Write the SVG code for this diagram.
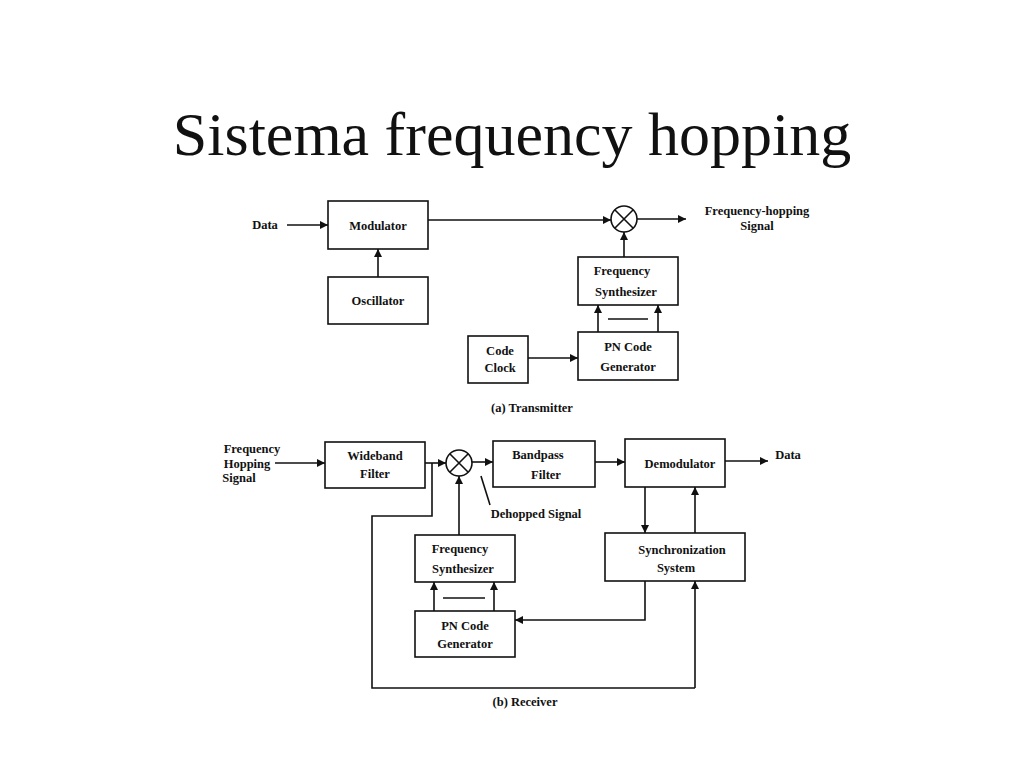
<svg xmlns="http://www.w3.org/2000/svg" width="1024" height="768" viewBox="0 0 1024 768">
<defs>
<marker id="ah" viewBox="0 0 10 10" refX="10" refY="5" markerWidth="8" markerHeight="8" markerUnits="userSpaceOnUse" orient="auto"><path d="M0,0 L10,5 L0,10 z" fill="#111"/></marker>
</defs>
<style>
.b{fill:none;stroke:#111;stroke-width:1.6}
.c{fill:none;stroke:#111;stroke-width:1.6}
.a{marker-end:url(#ah)}
text{font-family:"Liberation Serif",serif;fill:#111;font-size:12.5px;font-weight:bold;text-anchor:middle}
.t{font-size:62px;font-weight:normal}
</style>
<rect width="1024" height="768" fill="#fff"/>
<text class="t" x="512" y="155">Sistema frequency hopping</text>
<g id="tx">
<g id="modulator"><rect class="b" x="328" y="201" width="100" height="48"/><text x="378" y="230">Modulator</text></g>
<g id="oscillator"><rect class="b" x="328" y="277" width="100" height="47"/><text x="378" y="305">Oscillator</text></g>
<g id="mixer1"><circle class="b" cx="624" cy="219" r="13"/><path class="b" d="M615,210 L633,228 M633,210 L615,228"/></g>
<g id="synth1"><rect class="b" x="578" y="257" width="100" height="48"/><text x="622" y="275">Frequency</text><text x="626" y="296">Synthesizer</text><path class="b" d="M608,319 H648"/></g>
<g id="pn1"><rect class="b" x="578" y="332" width="100" height="48"/><text x="628" y="351">PN Code</text><text x="628" y="371">Generator</text></g>
<g id="clock"><rect class="b" x="468" y="336" width="60" height="47"/><text x="500" y="355">Code</text><text x="500" y="372">Clock</text></g>
<text x="265" y="229">Data</text>
<text x="757" y="215">Frequency-hopping</text><text x="757" y="230">Signal</text>
<text x="532" y="412">(a) Transmitter</text>
</g>
<g id="rx">
<g id="wideband"><rect class="b" x="325" y="442" width="100" height="46"/><text x="375" y="460">Wideband</text><text x="375" y="478">Filter</text></g>
<g id="mixer2"><circle class="b" cx="459" cy="463" r="13"/><path class="b" d="M450,454 L468,472 M468,454 L450,472"/></g>
<g id="bandpass"><rect class="b" x="493" y="441" width="102" height="46"/><text x="538" y="459">Bandpass</text><text x="546" y="479">Filter</text></g>
<g id="demod"><rect class="b" x="625" y="439" width="100" height="48"/><text x="680" y="468">Demodulator</text></g>
<g id="sync"><rect class="b" x="605" y="533" width="140" height="48"/><text x="682" y="554">Synchronization</text><text x="676" y="572">System</text></g>
<g id="synth2"><rect class="b" x="415" y="535" width="100" height="47"/><text x="460" y="553">Frequency</text><text x="463" y="573">Synthesizer</text><path class="b" d="M443,598 H485"/></g>
<g id="pn2"><rect class="b" x="415" y="611" width="100" height="46"/><text x="465" y="630">PN Code</text><text x="465" y="648">Generator</text></g>
<text x="252" y="453">Frequency</text><text x="247" y="468">Hopping</text><text x="239" y="482">Signal</text>
<text x="788" y="459">Data</text>
<text x="536" y="518">Dehopped Signal</text>
<text x="525" y="706">(b) Receiver</text>
</g>
<g id="connectors">
<path class="c a" d="M287,225 H328"/>
<path class="c a" d="M378,277 V249"/>
<path class="c a" d="M428,220 H611"/>
<path class="c a" d="M637,219 H686"/>
<path class="c a" d="M624,257 V232"/>
<path class="c a" d="M598,332 V305"/>
<path class="c a" d="M658,332 V305"/>
<path class="c a" d="M528,358 H578"/>
<path class="c a" d="M275,463 H325"/>
<path class="c a" d="M425,463 H446"/>
<path class="c" d="M432,463 V516 H372 V688 H695"/>
<path class="c a" d="M695,688 V581"/>
<path class="c a" d="M472,462 H493"/>
<path class="c a" d="M595,462 H625"/>
<path class="c a" d="M725,461 H768"/>
<path class="c" d="M481,476 L490,505"/>
<path class="c a" d="M459,535 V476"/>
<path class="c a" d="M434,611 V582"/>
<path class="c a" d="M494,611 V582"/>
<path class="c a" d="M645,487 V533"/>
<path class="c a" d="M695,533 V487"/>
<path class="c a" d="M645,581 V620 H515"/>
</g>
</svg>
